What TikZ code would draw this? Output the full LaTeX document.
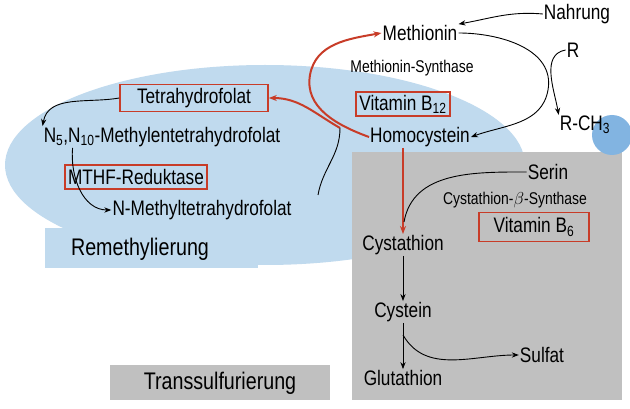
\documentclass[tikz,border=0pt]{standalone}
\usepackage{fontspec}
\setmainfont{Liberation Sans}[FakeStretch=0.82]
\usetikzlibrary{arrows.meta}
\definecolor{rot}{RGB}{200,60,40}
\definecolor{hblau}{RGB}{192,218,238}
\definecolor{dblau}{RGB}{130,180,225}
\definecolor{grau}{RGB}{192,192,192}
\tikzset{
  txt/.style={font=\fontsize{21}{23}\selectfont, inner sep=1pt},
  klein/.style={font=\fontsize{17}{19}\selectfont, inner sep=1pt},
  vit/.style={txt, draw=rot, line width=1.6pt, inner sep=3pt, minimum height=24pt},
  pf/.style={-{Stealth[length=7pt]}, line width=0.9pt},
  rpf/.style={-{Stealth[length=8pt]}, line width=2pt, draw=rot}
}
\begin{document}
\begin{tikzpicture}[x=1pt,y=-1pt]
        \useasboundingbox (0,0) rectangle (630,409);
        \fill[white] (0,0) rectangle (630,409);
        
        % backgrounds
        \fill[hblau] (265,165) ellipse (260 and 100);
        \fill[hblau] (45,228) rectangle (258,268);
        \fill[grau] (352,152) rectangle (622,400);
        \fill[grau] (110,365) rectangle (330,400);
        \fill[dblau] (612,135) circle (20);
        
        \node[txt] (nahrung) at (577,14) {Nahrung};
        \node[txt] (met) at (420,33) {Methionin};
        \node[txt] (R) at (573,50) {R};
        \node[klein] (ms) at (412,68) {Methionin-Synthase};
        \node[vit, minimum width=94pt] (b12) at (403,104) {Vitamin B\textsubscript{12}};
        \node[txt] (rch) at (585,125) {R-CH\textsubscript{3}};
        \node[txt] (hcy) at (420,137) {Homocystein};
        \node[vit, minimum width=148pt, minimum height=27pt] (thf) at (194,98) {Tetrahydrofolat};
        \node[txt] (n5) at (162,137) {N\textsubscript{5},N\textsubscript{10}-Methylentetrahydrofolat};
        \node[vit, minimum width=142pt] (mthf) at (136,177) {MTHF-Reduktase};
        \node[txt] (nmet) at (202,210) {N-Methyltetrahydrofolat};
        \node[txt, font=\fontsize{24}{26}\selectfont] (remet) at (140,249) {Remethylierung};
        
        \node[txt] (serin) at (548,172) {Serin};
        \node[klein] (cbs) at (515,200) {Cystathion-$\beta$-Synthase};
        \node[vit, minimum width=110pt, minimum height=29pt] (b6) at (534,227) {Vitamin B\textsubscript{6}};
        \node[txt] (cyst) at (403,245) {Cystathion};
        \node[txt] (cys) at (403,312) {Cystein};
        \node[txt] (sulf) at (542,355) {Sulfat};
        \node[txt] (glu) at (403,378) {Glutathion};
        \node[txt, font=\fontsize{24}{26}\selectfont] (trans) at (220,383) {Transsulfurierung};
        
        \coordinate (mfeed) at (318,195);
        \coordinate (mjoin) at (340,128);
        \coordinate (split) at (403,335);
        
        % connectors
        \draw[pf] (nahrung.west) to[out=175, in=10] (met.north east);
        \draw[pf] (met.east) to[out=0, in=80] (548,90) to[out=260, in=20] (hcy.east);
        \draw[pf] (R.west) to[out=190, in=100] (rch.north west);
        \draw[rpf] (hcy.west) to[out=160, in=260] (310,75) to[out=80, in=190] (met.west);
        \draw[rpf] (mjoin) to[out=150, in=0] (thf.east);
        \draw[line width=0.9pt] (mfeed) to[out=80, in=-90] (mjoin);
        \draw[pf] (thf.west) to[out=190, in=80] (n5.north west);
        \draw[pf] ([xshift=30pt]n5.south west) to[out=-95, in=180] (nmet.west);
        \draw[rpf] (hcy.south -| cyst) -- (cyst.north);
        \draw[line width=0.9pt] (serin.west) to[out=180, in=80] (404,222);
        \draw[pf] (cyst.south) -- (cys.north);
        \draw[pf] (cys.south) -- (glu.north);
        \draw[pf] (split) to[out=-60, in=180] (sulf.west);
        
    \end{tikzpicture}
\end{document}
